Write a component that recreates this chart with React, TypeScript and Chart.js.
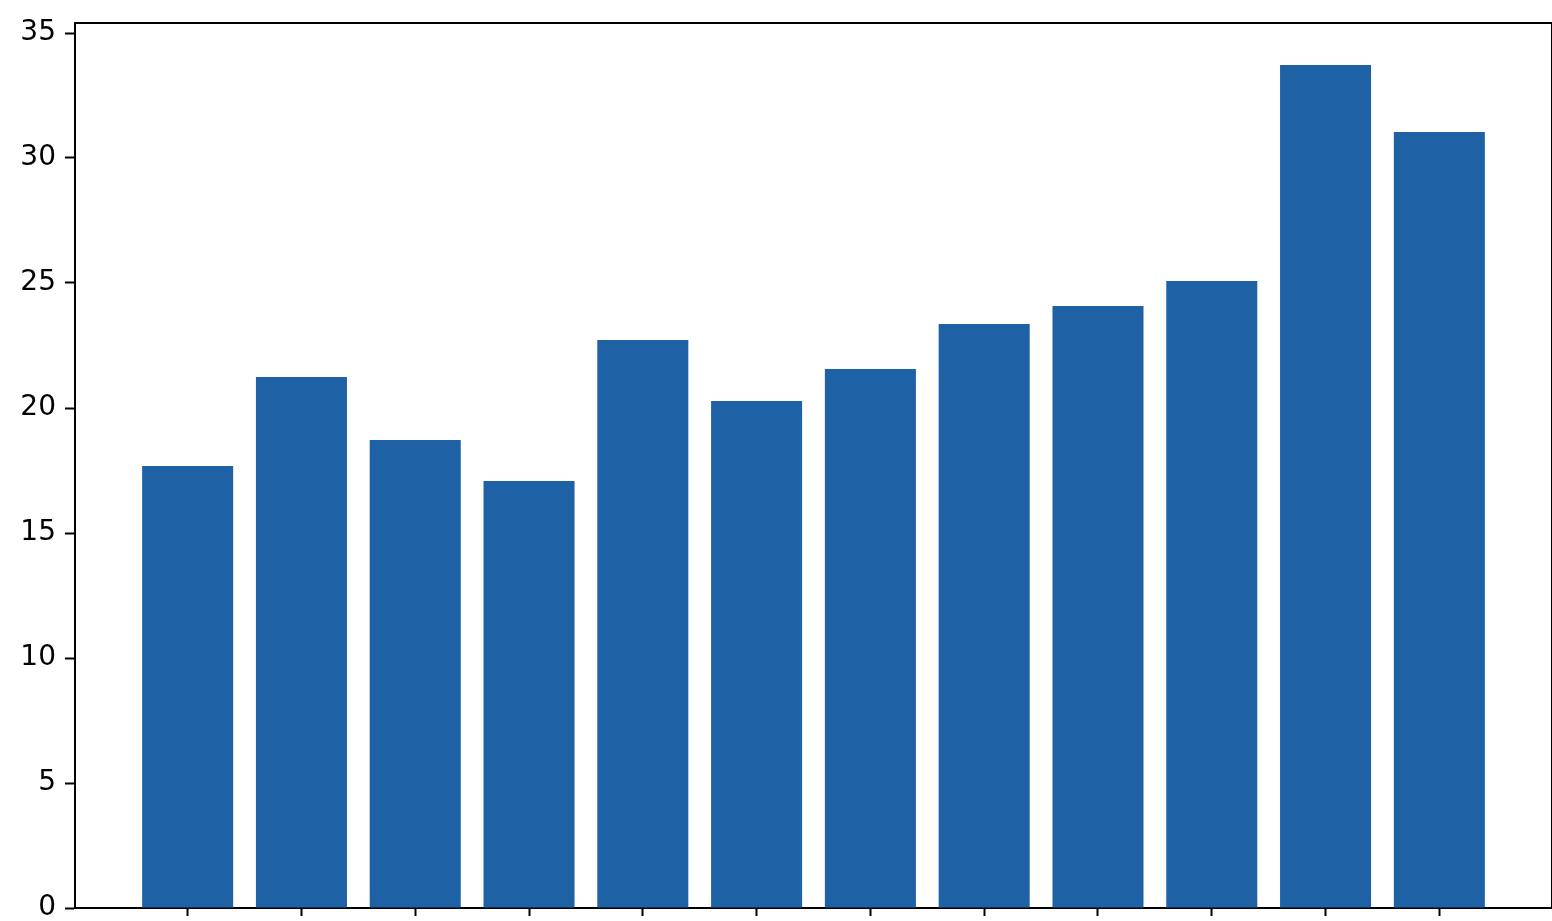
import React, { useEffect, useRef } from "react";
import { Chart, registerables } from "chart.js";

Chart.register(...registerables);

const categories: number[] = [0, 1, 2, 3, 4, 5, 6, 7, 8, 9, 10, 11];
const values: number[] = [17.68, 21.24, 18.72, 17.08, 22.72, 20.28, 21.56, 23.36, 24.08, 25.08, 33.72, 31.04];
const yTicks: number[] = [0, 5, 10, 15, 20, 25, 30, 35];

const BAR_COLOR = "#1e62a5";

const framePlugin = {
  id: "frame",
  afterDraw(chart: any) {
    const { ctx, chartArea } = chart;
    ctx.save();
    ctx.strokeStyle = "#000";
    ctx.lineWidth = 2;
    ctx.beginPath();
    ctx.moveTo(chartArea.left, chartArea.top);
    ctx.lineTo(chartArea.right, chartArea.top);
    ctx.lineTo(chartArea.right, chartArea.bottom);
    ctx.stroke();
    ctx.restore();
  },
};

export default function App() {
  const ref = useRef<HTMLCanvasElement>(null);

  useEffect(() => {
    if (!ref.current) return;
    const chart = new Chart(ref.current, {
      type: "bar",
      data: {
        datasets: [
          {
            data: categories.map((c, i) => ({ x: c, y: values[i] })),
            backgroundColor: BAR_COLOR,
            borderWidth: 0,
            barPercentage: 0.8,
            categoryPercentage: 1,
          },
        ],
      },
      options: {
        animation: false,
        responsive: false,
        layout: { padding: { left: 0, top: 23, right: -1.5, bottom: 0 } },
        plugins: { legend: { display: false }, tooltip: { enabled: false } },
        scales: {
          x: {
            type: "linear",
            offset: false,
            min: -0.99,
            max: 11.99,
            afterBuildTicks: (axis: any) => {
              axis.ticks = categories.map((c) => ({ value: c }));
            },
            afterFit: (scale: any) => {
              scale.height = 13;
              scale.paddingLeft = 0;
              scale.paddingRight = 0;
            },
            ticks: { display: false },
            grid: {
              offset: false,
              drawOnChartArea: false,
              drawTicks: true,
              tickLength: 8,
              tickColor: "#000",
              tickWidth: 2,
            },
            border: { display: true, color: "#000", width: 2 },
          },
          y: {
            type: "linear",
            min: 0,
            max: 35.4,
            afterBuildTicks: (axis: any) => {
              axis.ticks = yTicks.map((v) => ({ value: v }));
            },
            afterFit: (scale: any) => {
              scale.width = 75;
              scale.paddingTop = 0;
              scale.paddingBottom = 0;
            },
            ticks: {
              color: "#000",
              padding: 9,
              font: { family: "DejaVu Sans", size: 28 },
            },
            grid: {
              drawOnChartArea: false,
              drawTicks: true,
              tickLength: 10,
              tickColor: "#000",
              tickWidth: 2,
            },
            border: { display: true, color: "#000", width: 2 },
          },
        },
      },
      plugins: [framePlugin],
    });
    return () => chart.destroy();
  }, []);

  return (
    <div style={{ position: "absolute", left: 0, top: 0, width: 1552, height: 921, background: "#fff" }}>
      <canvas ref={ref} width={1552} height={921} style={{ display: "block", width: 1552, height: 921 }} />
    </div>
  );
}
